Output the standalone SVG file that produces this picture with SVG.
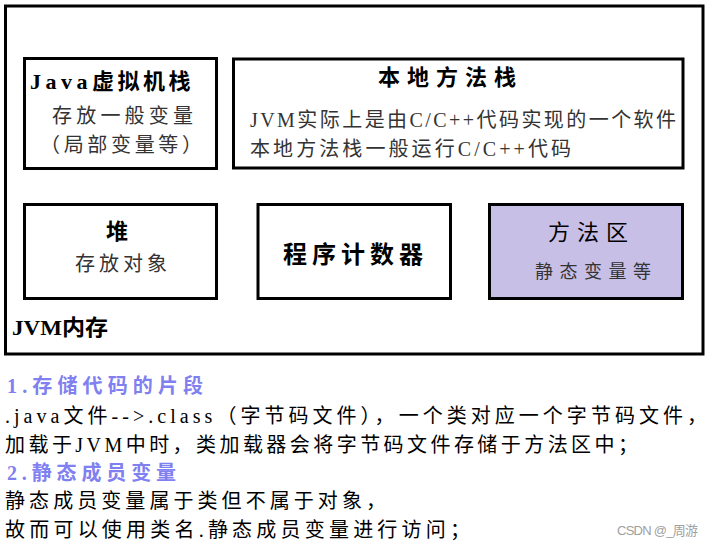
<svg xmlns="http://www.w3.org/2000/svg" width="713" height="546" viewBox="0 0 713 546">
<style>
text { font-family: "Liberation Serif", "Noto Sans CJK SC", serif; fill: #000; }
.box { fill: #fff; stroke: #000; stroke-width: 3; }
.title { font-size: 22px; font-weight: bold; }
.sub { font-size: 20px; fill: #333; }
.body { font-size: 20px; }
.head { font-size: 20px; font-weight: bold; fill: #8080F0; }
</style>
<rect x="0" y="0" width="713" height="546" fill="#fff"/>
<g id="jvm-memory">
  <rect class="box" x="5.5" y="6" width="697.5" height="348"/>
  <text class="title" x="12" y="335" textLength="96" lengthAdjust="spacingAndGlyphs">JVM内存</text>
</g>
<g id="java-stack">
  <rect class="box" x="24.5" y="58.5" width="192" height="110"/>
  <text class="title" x="30" y="89"><tspan letter-spacing="4.5">Java</tspan><tspan letter-spacing="3.5">虚拟机栈</tspan></text>
  <text class="sub" x="52" y="123" textLength="141">存放一般变量</text>
  <text class="sub" x="40" y="152" textLength="162">（局部变量等）</text>
</g>
<g id="native-stack">
  <rect class="box" x="233.5" y="59" width="449.5" height="109"/>
  <text class="title" x="378" y="85" textLength="138">本地方法栈</text>
  <text class="sub" x="250" y="127" textLength="426">JVM实际上是由C/C++代码实现的一个软件</text>
  <text class="sub" x="250" y="156" textLength="321">本地方法栈一般运行C/C++代码</text>
</g>
<g id="heap">
  <rect class="box" x="24.5" y="204.5" width="192" height="94"/>
  <text class="title" x="106" y="239">堆</text>
  <text class="sub" x="75" y="271" textLength="92">存放对象</text>
</g>
<g id="pc-register">
  <rect class="box" x="258" y="204.5" width="192.5" height="94"/>
  <text class="title" x="283" y="263" style="font-size:24px" textLength="140">程序计数器</text>
</g>
<g id="method-area">
  <rect class="box" x="489.5" y="204.5" width="193" height="94" style="fill:#C8BFE7"/>
  <text x="548" y="240" style="font-size:22px" textLength="80">方法区</text>
  <text class="sub" x="535" y="278" style="font-size:18px" textLength="116">静态变量等</text>
</g>
<g id="notes">
  <text class="head" x="7" y="393" textLength="196">1.存储代码的片段</text>
  <text class="body" x="5" y="423" textLength="702">.java文件--&gt;.class（字节码文件），一个类对应一个字节码文件，</text>
  <text class="body" x="5" y="452" textLength="633">加载于JVM中时，类加载器会将字节码文件存储于方法区中；</text>
  <text class="head" x="7" y="480" textLength="169">2.静态成员变量</text>
  <text class="body" x="5" y="508" textLength="381">静态成员变量属于类但不属于对象，</text>
  <text class="body" x="5" y="537" textLength="465">故而可以使用类名.静态成员变量进行访问；</text>
  <text x="617" y="535" style="font-family:'Liberation Sans','Noto Sans CJK SC',sans-serif;font-size:13px;fill:#a0a0a0" textLength="81">CSDN @_周游</text>
</g>
</svg>
